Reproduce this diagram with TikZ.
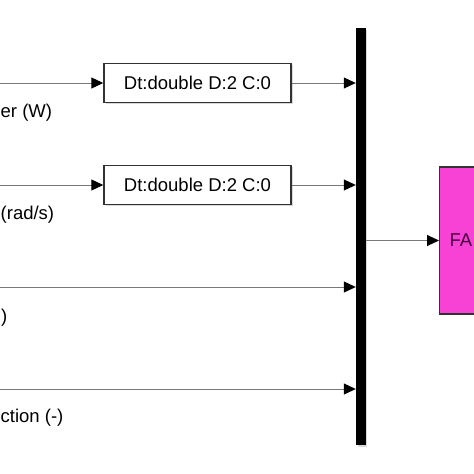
\documentclass[tikz,border=0pt]{standalone}
\usepackage{fontspec}
\setmainfont{Liberation Sans}
\usetikzlibrary{arrows.meta,shadows}
\definecolor{wiregray}{RGB}{120,120,120}
\definecolor{boxgray}{RGB}{50,50,50}
\definecolor{fapink}{RGB}{248,66,214}
\definecolor{fatext}{RGB}{70,0,60}
\tikzset{
  arrow/.style={-{Triangle[length=12pt,width=11pt,color=black]}, draw=wiregray, line width=1pt},
  dtbox/.style={draw=boxgray, fill=white, line width=1.4pt, minimum width=187pt, minimum height=39pt,
    font=\fontsize{18.5}{21}\selectfont,
    drop shadow={shadow xshift=1.5pt, shadow yshift=-1.5pt, opacity=0.3}},
  busbar/.style={fill=black, inner sep=0pt, minimum width=9.5pt, minimum height=417pt,
    drop shadow={shadow xshift=1.5pt, shadow yshift=-1.5pt, opacity=0.3}},
  fabox/.style={draw=boxgray, fill=fapink, line width=1.4pt, anchor=west, minimum height=147pt,
    text width=40pt, inner xsep=10pt, align=left, text=fatext, font=\fontsize{18.5}{21}\selectfont},
  sig/.style={anchor=west, inner sep=0pt, font=\fontsize{18.5}{21}\selectfont}
}

\begin{document}
\begin{tikzpicture}[x=1pt,y=-1pt]
    \useasboundingbox (0,0) rectangle (474,474);
    \clip (0,0) rectangle (474,474);
    % free ends of the input signals
    \coordinate (inP) at (0,83);
    \coordinate (inW) at (0,185);
    \coordinate (inT) at (0,287);
    \coordinate (inL) at (0,389);
    \node[dtbox] (dtP) at (197.5,83) {Dt:double D:2 C:0};
    \node[dtbox] (dtW) at (197.5,185) {Dt:double D:2 C:0};
    \node[busbar] (mux) at (360.75,236.5) {};
    \node[fabox] (fast) at (439,240.5) {FA};
    % signal names
    \node[sig] (labP) at (0.5,113) {er (W)};
    \node[sig] (labW) at (0.5,215) {(rad/s)};
    \node[sig] (labT) at (1,318) {)};
    \node[sig] (labL) at (0.5,418) {ction (-)};
    \draw[arrow] (inP) -- (dtP);
    \draw[arrow] (inW) -- (dtW);
    \draw[arrow] (dtP) -- (mux.west |- dtP);
    \draw[arrow] (dtW) -- (mux.west |- dtW);
    \draw[arrow] (inT) -- (mux.west |- inT);
    \draw[arrow] (inL) -- (mux.west |- inL);
    \draw[arrow] (mux.east |- fast) -- (fast);
\end{tikzpicture}
\end{document}
